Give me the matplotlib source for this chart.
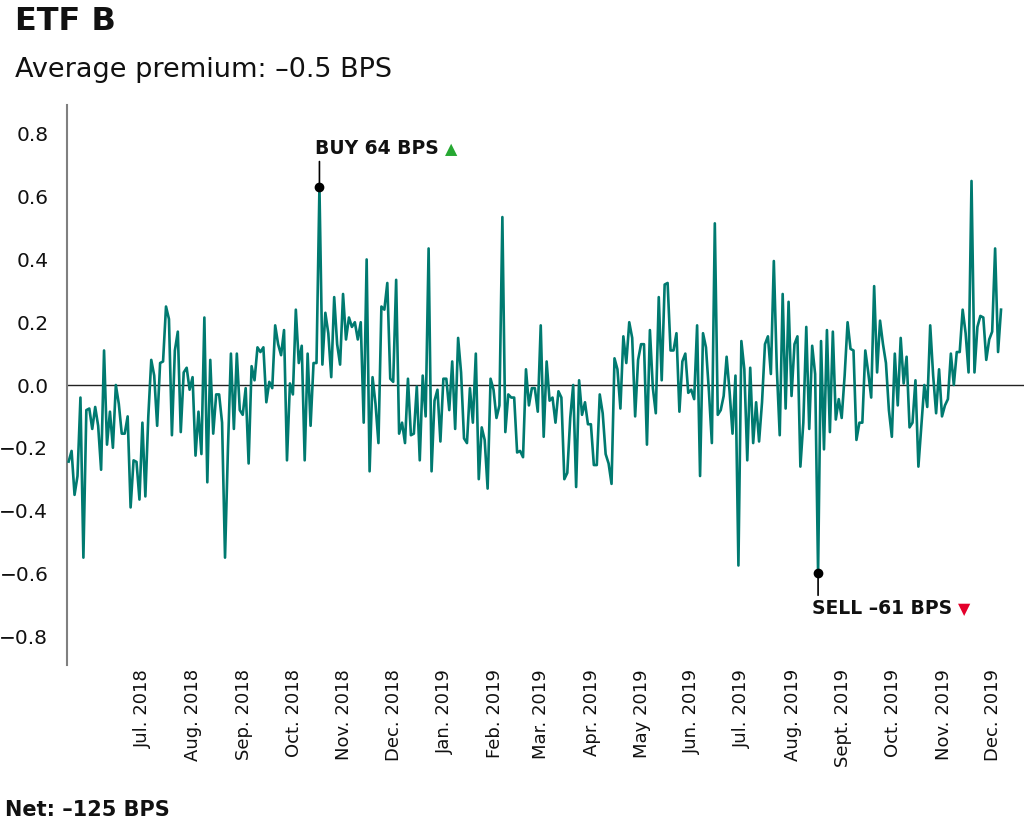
import numpy as np
import pandas as pd
import matplotlib
matplotlib.use("Agg")
import matplotlib.pyplot as plt

# premium / discount readings (%) left to right
seg_1 = [-0.244, -0.21, -0.35, -0.29, -0.04, -0.55, -0.08, -0.075, -0.14, -0.07,
         -0.13, -0.27, 0.11, -0.19, -0.085, -0.20, 0.0, -0.06, -0.155, -0.155,
         -0.10, -0.39, -0.24, -0.245, -0.365, -0.12, -0.355, -0.10, 0.08, 0.03,
         -0.13, 0.07, 0.075, 0.25, 0.21, -0.16, 0.11, 0.17, -0.15, 0.04,
         0.055, -0.015, 0.025, -0.225, -0.085, -0.22, 0.215, -0.31, 0.08, -0.155,
         -0.03, -0.03]
seg_2 = [-0.12, -0.55, -0.20, 0.10, -0.14, 0.10, -0.08, -0.095, -0.01, -0.25,
         0.06, 0.015, 0.12, 0.105, 0.12, -0.055, 0.01, -0.01, 0.19, 0.13,
         0.095, 0.175, -0.24, 0.005, -0.03, 0.24, 0.07, 0.125, -0.24, 0.10,
         -0.13, 0.07, 0.07, 0.63, 0.065, 0.23, 0.165, 0.025, 0.28, 0.13,
         0.065, 0.29, 0.145, 0.215, 0.185, 0.20, 0.145, 0.20, -0.12, 0.40,
         -0.275, 0.025, -0.06, -0.185, 0.25, 0.24]
seg_3 = [0.325, 0.02, 0.01, 0.335, -0.155, -0.12, -0.185, 0.02, -0.16, -0.155,
         -0.005, -0.24, 0.03, -0.10, 0.435, -0.275, -0.05, -0.015, -0.18, 0.02,
         0.02, -0.08, 0.075, -0.14, 0.15, 0.04, -0.17, -0.185, -0.01, -0.12,
         0.10, -0.30, -0.135, -0.175, -0.33, 0.02, -0.015, -0.105, -0.065, 0.535,
         -0.15, -0.03, -0.04, -0.04, -0.215, -0.21]
seg_4 = [-0.23, 0.05, -0.065, -0.01, -0.01, -0.085, 0.19, -0.165, 0.075, -0.05,
         -0.04, -0.12, -0.02, -0.04, -0.30, -0.28, -0.105, 0.0, -0.325, 0.015,
         -0.095, -0.055, -0.125, -0.125, -0.255, -0.255, -0.03, -0.09, -0.22, -0.25,
         -0.315, 0.085, 0.05, -0.075, 0.155, 0.07, 0.20, 0.15, -0.10, 0.08,
         0.13, 0.13, -0.19, 0.175, -0.01, -0.09, 0.28, 0.015, 0.32, 0.325,
         0.11, 0.11, 0.165]
seg_5 = [-0.085, 0.075, 0.10, -0.025, -0.015, -0.045, 0.19, -0.29, 0.165, 0.12,
         -0.02, -0.185, 0.515, -0.095, -0.08, -0.035, 0.09, -0.02, -0.155, 0.03,
         -0.575, 0.14, 0.05, -0.24, 0.055, -0.185, -0.055, -0.18, -0.055, 0.13,
         0.155, 0.035, 0.395, 0.055, -0.16, 0.29, -0.075, 0.265, -0.035, 0.13,
         0.155, -0.26, -0.12, 0.185, -0.14, 0.125, 0.035, -0.60, 0.14, -0.205,
         0.175, -0.15, 0.17, -0.11, -0.045]
seg_6 = [-0.105, 0.03, 0.20, 0.115, 0.11, -0.175, -0.12, -0.12, 0.11, 0.04,
         -0.04, 0.315, 0.04, 0.205, 0.13, 0.07, -0.08, -0.165, 0.10, -0.065,
         0.15, 0.005, 0.09, -0.135, -0.12, 0.015, -0.26, -0.13, 0.0, -0.07,
         0.19, 0.03, -0.09, 0.05, -0.10, -0.065, -0.045, 0.10, 0.0, 0.105,
         0.105, 0.24, 0.165, 0.04, 0.65, 0.04, 0.185, 0.22, 0.215, 0.08,
         0.145, 0.17, 0.435, 0.105, 0.24]
values = seg_1 + seg_2 + seg_3 + seg_4 + seg_5 + seg_6

first_day = "2018-05-17"
last_day = "2019-12-06"

month_labels = ["Jul. 2018", "Aug. 2018", "Sep. 2018", "Oct. 2018", "Nov. 2018",
                "Dec. 2018", "Jan. 2019", "Feb. 2019", "Mar. 2019", "Apr. 2019",
                "May 2019", "Jun. 2019", "Jul. 2019", "Aug. 2019", "Sept. 2019",
                "Oct. 2019", "Nov. 2019", "Dec. 2019"]
y_ticks = [0.8, 0.6, 0.4, 0.2, 0.0, -0.2, -0.4, -0.6, -0.8]

buy_label = "BUY 64 BPS"
sell_label = "SELL \u201361 BPS"

TEAL = "#007A70"
GREEN = "#26A832"
RED = "#E4002B"


def main():
    xs = pd.date_range(first_day, last_day, periods=len(values))
    months = pd.date_range("2018-07-01", periods=len(month_labels), freq="MS")

    fig = plt.figure(figsize=(10.24, 8.23), dpi=100)
    ax = fig.add_axes([67 / 1024, 158 / 823, 957 / 1024, 560 / 823])

    ax.plot(xs, values, color=TEAL, lw=1.9, solid_joinstyle="round", zorder=3)
    ax.axhline(0, color="#222222", lw=1.0, zorder=2)

    ax.set_xlim(pd.Timestamp("2018-05-16"), pd.Timestamp("2019-12-20"))
    ax.set_ylim(-0.892, 0.892)

    for side in ["top", "right", "bottom"]:
        ax.spines[side].set_visible(False)
    ax.spines["left"].set_color("#808080")
    ax.spines["left"].set_linewidth(1.5)

    ax.set_yticks(y_ticks)
    ax.set_yticklabels([f"{v:.1f}".replace("-", "\u2212") for v in y_ticks])
    ax.tick_params(axis="y", length=0, pad=13.5, labelsize=14.5, colors="#111111")
    ax.set_xticks(months)
    ax.set_xticklabels(month_labels, rotation=90)
    ax.tick_params(axis="x", length=0, pad=3, labelsize=13, colors="#111111")

    # buy / sell call-outs
    buy_i = values.index(0.63)
    sell_i = int(np.argmin(values))
    callouts = [
        (buy_i, buy_label, 18.5, (-2.9, 23.8), "\u25B2", GREEN),
        (sell_i, sell_label, -15.8, (-4.3, -29.5), "\u25BC", RED),
    ]
    texts = []
    for i, label, line_dy, (tx, ty), glyph, color in callouts:
        ax.plot(xs[i], values[i], "o", color="black", ms=6, zorder=5)
        ax.annotate("", xy=(xs[i], values[i]), xytext=(0, line_dy),
                    textcoords="offset points",
                    arrowprops=dict(arrowstyle="-", color="black", lw=1.2,
                                    shrinkA=0, shrinkB=0))
        t = ax.annotate(label, xy=(xs[i], values[i]), xytext=(tx, ty),
                        textcoords="offset points", ha="left", va="baseline",
                        fontsize=13.5, fontweight="bold", color="#111111")
        texts.append((t, i, tx, ty, glyph, color))

    fig.canvas.draw()
    for t, i, tx, ty, glyph, color in texts:
        w = t.get_window_extent().width * 72 / fig.dpi
        ax.annotate(glyph, xy=(xs[i], values[i]), xytext=(tx + w + 4, ty),
                    textcoords="offset points", ha="left", va="baseline",
                    fontsize=11.5, color=color)

    fig.text(15 / 1024, 1 - 30 / 823, "ETF B", fontsize=23, fontweight="bold",
             color="#111111", va="baseline")
    fig.text(15 / 1024, 1 - 77 / 823, "Average premium: \u20130.5 BPS",
             fontsize=19.5, color="#111111", va="baseline")
    fig.text(5 / 1024, 1 - 816 / 823, "Net: \u2013125 BPS", fontsize=15,
             fontweight="bold", color="#111111", va="baseline")

    fig.savefig("out.png", dpi=100)
    plt.close(fig)


if __name__ == "__main__":
    main()
